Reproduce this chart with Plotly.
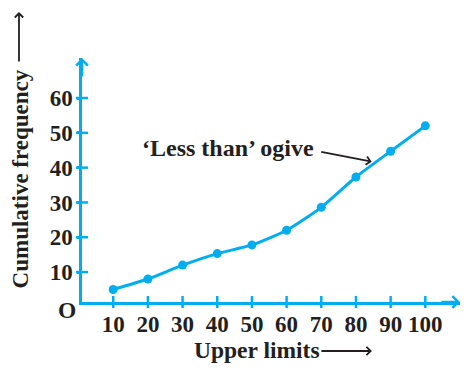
import plotly.graph_objects as go

# Data
upper_limits = [10, 20, 30, 40, 50, 60, 70, 80, 90, 100]
cum_freq = [5, 8, 12, 15.3, 17.8, 22, 28.6, 37.3, 44.7, 52]
x_ticks = [10, 20, 30, 40, 50, 60, 70, 80, 90, 100]
y_ticks = [10, 20, 30, 40, 50, 60]

CYAN = "#00aeef"
INK = "#231f20"
SERIF = "Liberation Serif, Times New Roman, serif"

fig = go.Figure()
fig.add_trace(go.Scatter(
    x=upper_limits, y=cum_freq, mode="lines+markers",
    line=dict(color=CYAN, width=3, shape="spline", smoothing=0.6),
    marker=dict(color=CYAN, size=9),
    showlegend=False, hoverinfo="skip",
))

tickfont = dict(family=SERIF, size=23, color=INK, weight="bold")

# page body has an 8px margin, so the figure is 8px smaller than the window
fig.update_layout(
    width=462, height=362,
    margin=dict(l=74, r=10, t=50, b=68),
    paper_bgcolor="white", plot_bgcolor="white",
    xaxis=dict(range=[1, 110], tickvals=x_ticks, ticktext=[str(v) for v in x_ticks],
               showgrid=False, zeroline=False, showline=True, linecolor=CYAN, linewidth=2.5,
               ticks="outside", ticklen=0, tickwidth=2.5, tickcolor=CYAN, tickfont=tickfont,
               automargin=False),
    yaxis=dict(range=[1.4, 71.5], tickvals=y_ticks, ticktext=[str(v) for v in y_ticks],
               showgrid=False, zeroline=False, showline=True, linecolor=CYAN, linewidth=2.5,
               ticks="outside", ticklen=2, tickwidth=2.5, tickcolor=CYAN, tickfont=tickfont,
               automargin=False),
)

# crossing ticks
for v in x_ticks:
    fig.add_shape(type="line", xref="x", yref="paper", ysizemode="pixel", yanchor=0,
                  x0=v, x1=v, y0=-6, y1=6, line=dict(color=CYAN, width=2.5))
for v in y_ticks:
    fig.add_shape(type="line", yref="y", xref="paper", xsizemode="pixel", xanchor=0,
                  y0=v, y1=v, x0=-6, x1=6, line=dict(color=CYAN, width=2.5))

# axis-end arrowheads
fig.add_annotation(x=1, y=0, xref="paper", yref="paper", ax=-20, ay=0, text="",
                   showarrow=True, arrowhead=4, arrowsize=0.9, arrowwidth=2.5, arrowcolor=CYAN)
fig.add_annotation(x=0, y=1, xref="paper", yref="paper", ax=0, ay=20, text="",
                   showarrow=True, arrowhead=4, arrowsize=0.9, arrowwidth=2.5, arrowcolor=CYAN)

lab = dict(family=SERIF, size=23.5, color=INK, weight="bold")
ctr = dict(xanchor="center", yanchor="middle", showarrow=False)

# Axis titles with arrows
fig.add_annotation(x=-0.163, y=0.504, xref="paper", yref="paper", text="Cumulative frequency",
                   textangle=-90, font=dict(family=SERIF, size=23, color=INK, weight="bold"), **ctr)
fig.add_annotation(x=-0.1667, y=1.1885, xref="paper", yref="paper", ax=0, ay=51, text="",
                   showarrow=True, arrowhead=4, arrowsize=0.9, arrowwidth=1.8, arrowcolor=INK)
fig.add_annotation(x=0.463, y=-0.197, xref="paper", yref="paper", text="Upper limits",
                   font=lab, **ctr)
fig.add_annotation(x=0.767, y=-0.2008, xref="paper", yref="paper", ax=-52, ay=0, text="",
                   showarrow=True, arrowhead=4, arrowsize=0.9, arrowwidth=1.8, arrowcolor=INK)
fig.add_annotation(x=-0.0397, y=-0.0328, xref="paper", yref="paper", text="O",
                   font=lab, **ctr)

# Ogive label with pointer
fig.add_annotation(x=0.386, y=0.631, xref="paper", yref="paper", text="‘Less than’ ogive",
                   font=dict(family=SERIF, size=24, color=INK, weight="bold"), **ctr)
fig.add_annotation(x=0.7664, y=0.575, xref="paper", yref="paper", ax=-52, ay=-10, text="",
                   showarrow=True, arrowhead=4, arrowsize=0.9, arrowwidth=1.8, arrowcolor=INK)

fig.write_html("out.html")
